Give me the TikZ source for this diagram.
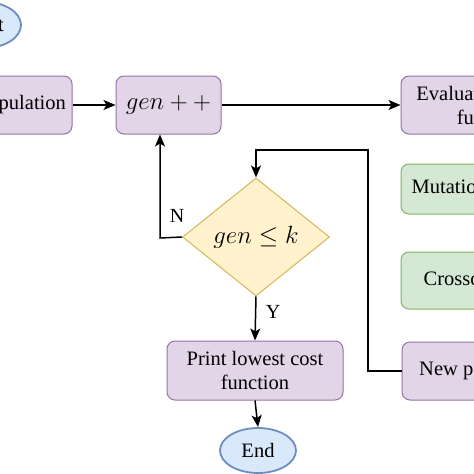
\documentclass[tikz,border=0pt]{standalone}
\usepackage{fontspec}
\setmainfont{Liberation Serif}
\usetikzlibrary{shapes.geometric,arrows.meta}
\definecolor{pfill}{HTML}{E1D5E7}
\definecolor{pdraw}{HTML}{9673A6}
\definecolor{gfill}{HTML}{D5E8D4}
\definecolor{gdraw}{HTML}{82B366}
\definecolor{yfill}{HTML}{FFF2CC}
\definecolor{ydraw}{HTML}{D6B656}
\definecolor{bfill}{HTML}{DAE8FC}
\definecolor{bdraw}{HTML}{6C8EBF}
\tikzset{
  txt/.style={font=\fontsize{20.5}{24}\selectfont, align=center, inner sep=0pt},
  mathtxt/.style={font=\fontsize{24}{28}\selectfont},
  pbox/.style={txt, draw=pdraw, fill=pfill, rounded corners=8pt, line width=1pt},
  gbox/.style={txt, draw=gdraw, fill=gfill, rounded corners=8pt, line width=1pt},
  term/.style={txt, ellipse, draw=bdraw, fill=bfill, line width=1.8pt},
  decide/.style={txt, diamond, draw=ydraw, fill=yfill, line width=1pt},
  arr/.style={line width=1.5pt, -{Stealth[length=12pt,width=10pt,inset=3pt]}},
  lbl/.style={font=\fontsize{20}{24}\selectfont, inner sep=0pt}
}
\begin{document}
\begin{tikzpicture}[x=1pt,y=-1pt]
\useasboundingbox (0,0) rectangle (474,474);
\clip (0,0) rectangle (474,474);
\fill[white] (0,0) rectangle (474,474);
\node[term, minimum width=73pt, minimum height=46pt] (start) at (-15.5,25) {Start};
\node[pbox, minimum width=154pt, minimum height=58pt] (pop) at (-5,105) {Initial population};
\node[pbox, mathtxt, minimum width=105pt, minimum height=58pt] (gen) at (168.5,105) {$gen++$};
\node[pbox, minimum width=180pt, minimum height=58pt] (eval) at (491,105) {Evaluation of cost\\function};
\node[gbox, minimum width=170pt, minimum height=50pt] (mut) at (486,189) {Mutation operator};
\node[gbox, minimum width=202pt, minimum height=57pt] (cross) at (502,280.5) {Crossover operator};
\node[pbox, minimum width=166pt, minimum height=58pt] (new) at (485,371) {New population};
\node[decide, mathtxt, minimum width=147pt, minimum height=118pt, aspect=1.25] (dia) at (256,237) {$gen\leq k$};
\node[pbox, minimum width=176pt, minimum height=59pt] (print) at (255,370.5) {Print lowest cost\\function};
\node[term, minimum width=76pt, minimum height=45pt] (end) at (258,450.5) {End};
\coordinate (c1) at (368,150);
\coordinate (n1) at (160,238);
\draw[arr] (pop.east) -- (gen.west);
\draw[arr] (gen.east) -- (eval.west);
\draw[arr] (new.west) -| (c1) -| (dia.north);
\draw[arr] (dia.west) -- (n1) -- (n1 |- gen.south);
\draw[arr] (dia.south) -- (print.north);
\draw[arr] (print.south) -- (end.north);
\node[lbl] (nl) at (177,216) {N};
\node[lbl] (yl) at (273,312) {Y};
\end{tikzpicture}
\end{document}
